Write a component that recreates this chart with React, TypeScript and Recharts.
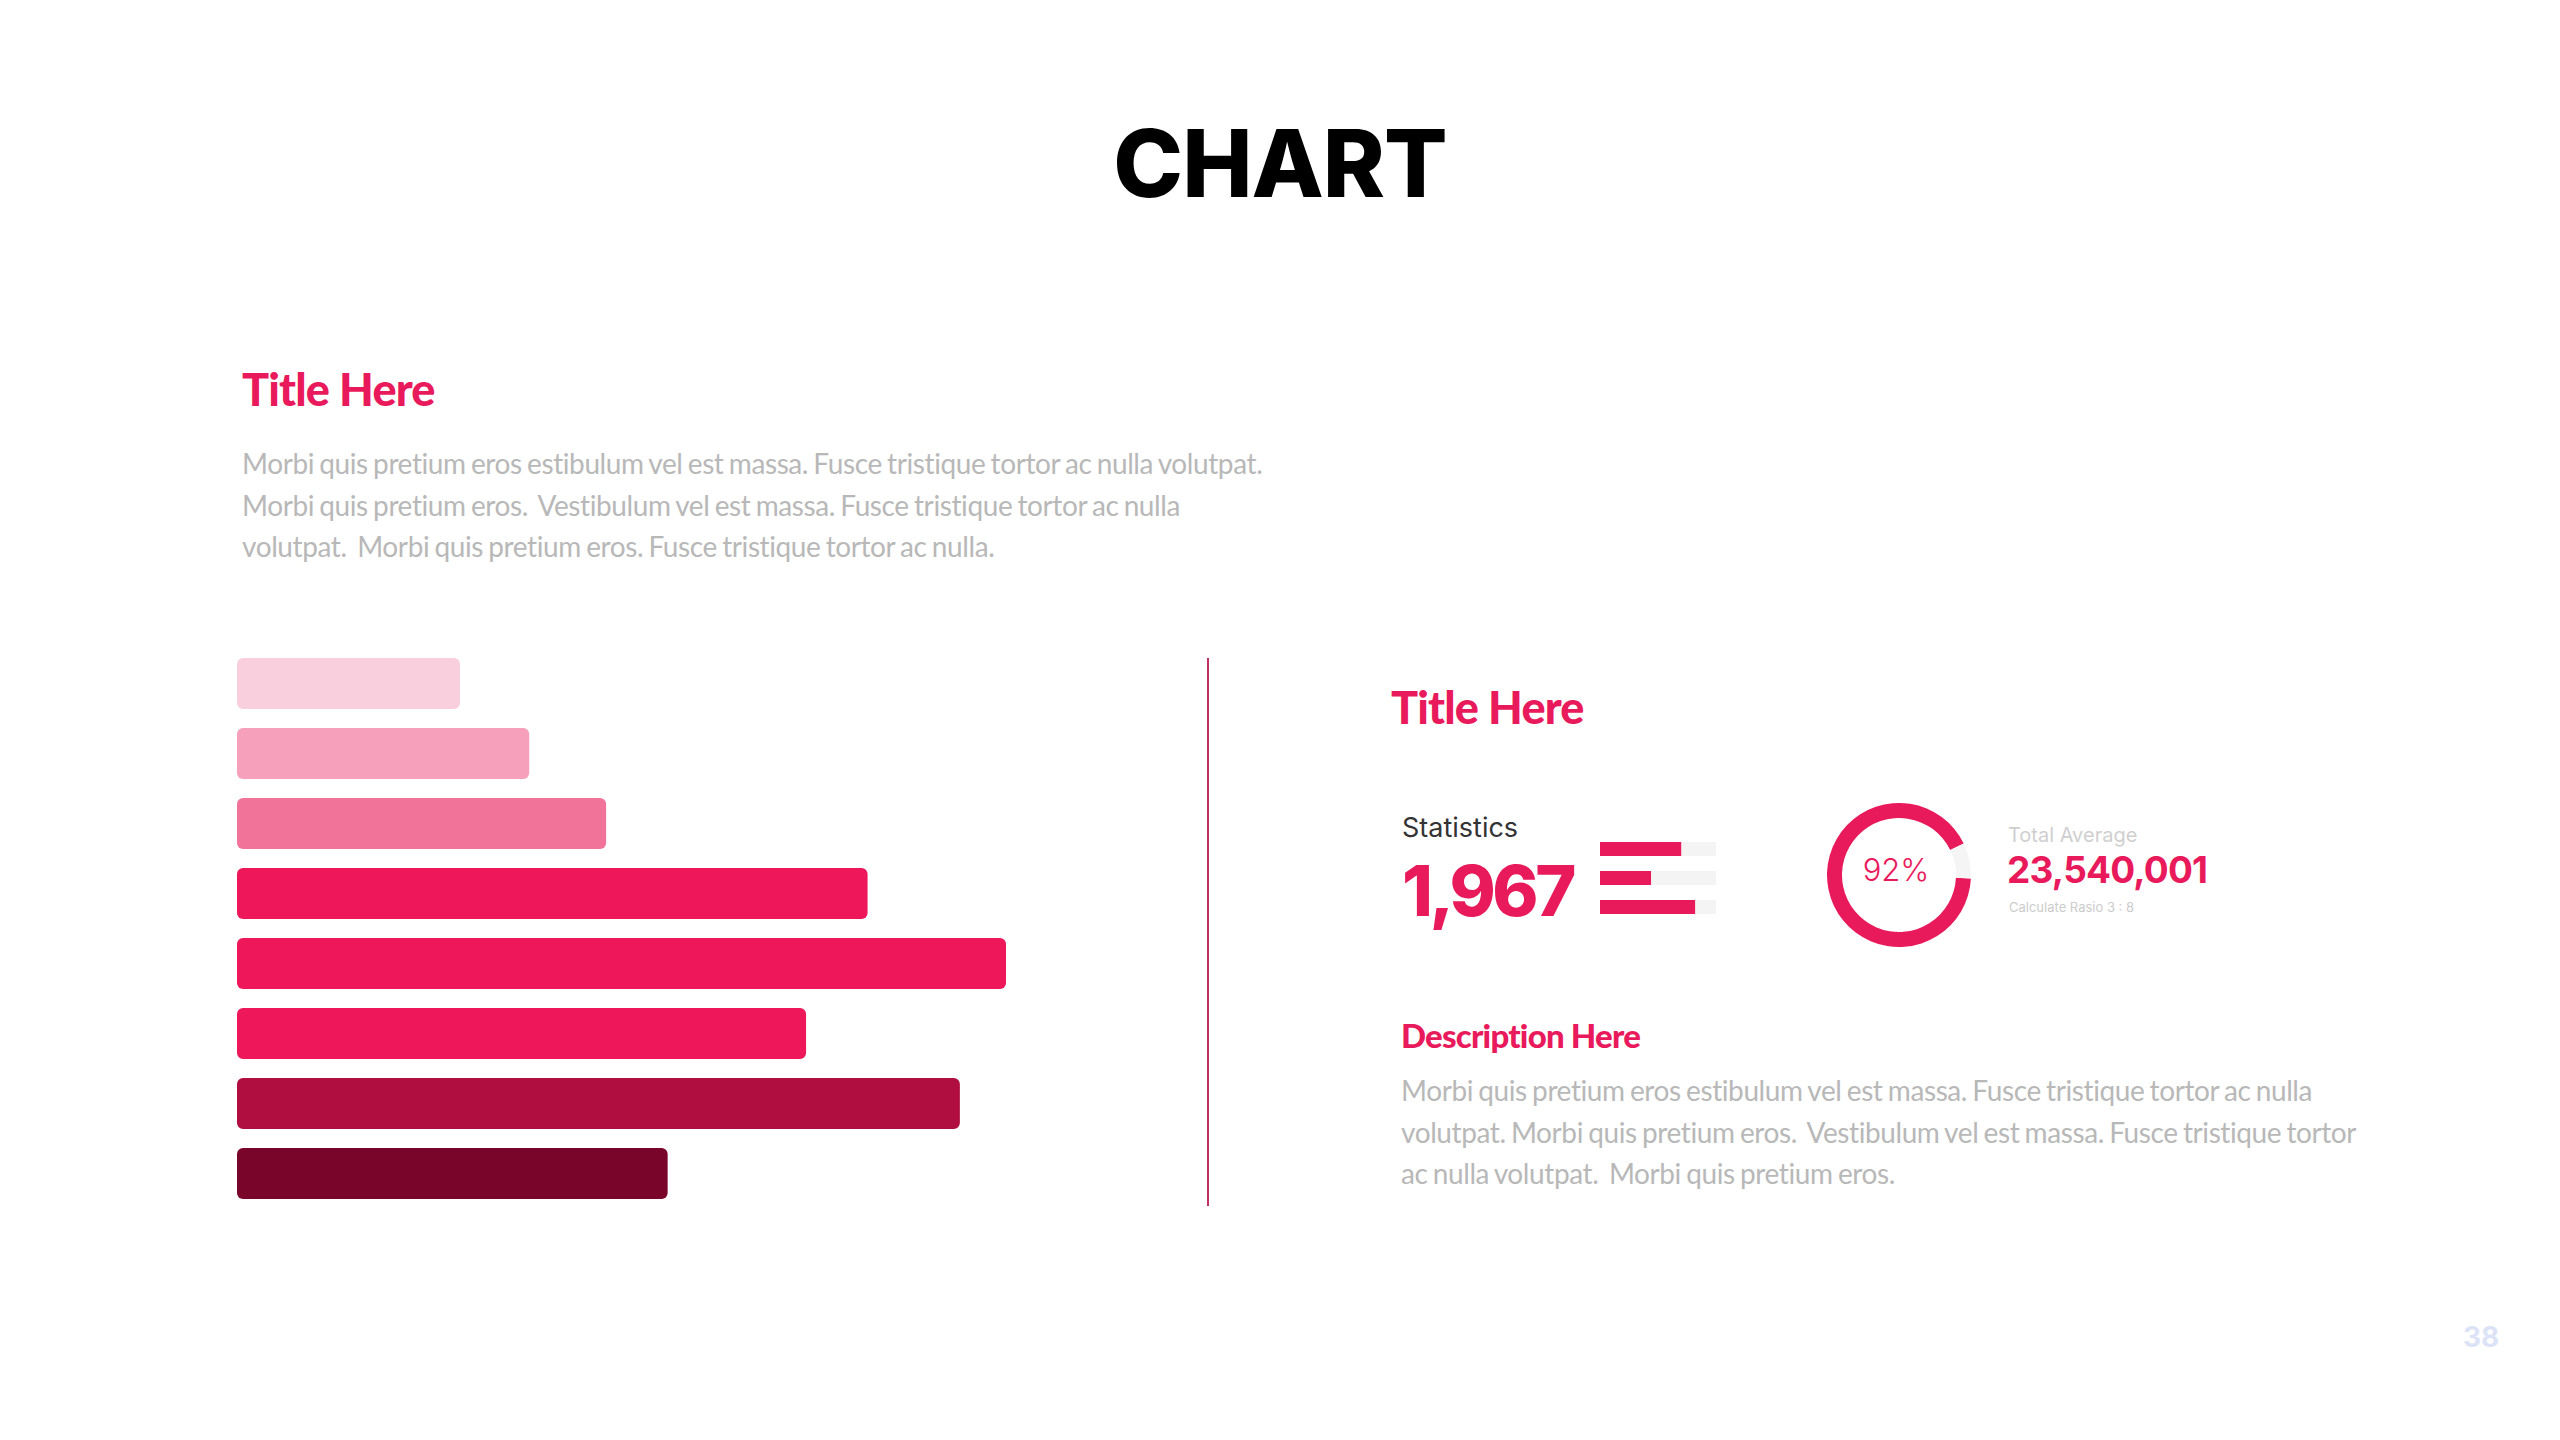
import { BarChart, Bar, XAxis, YAxis, Cell, PieChart, Pie } from 'recharts';

// main horizontal bars (top to bottom)
const categories = ['A', 'B', 'C', 'D', 'E', 'F', 'G', 'H'];
const barValues = [29, 38, 48, 82, 100, 74, 94, 56];
const barColors = ['#f9cfdd', '#f6a0bb', '#f17399', '#ee175a', '#ee175a', '#ee175a', '#b00e40', '#79052b'];

// small statistics bars
const statLabels = ['S1', 'S2', 'S3'];
const statValues = [70, 44, 82];

// donut
const donutLabels = ['Done', 'Rest'];
const donutValues = [92, 8];

const RED = '#e91a5c';
const GREY_TEXT = '#b8b8b8';

const mainData = categories.map((name, i) => ({ name, value: barValues[i] }));
const statData = statLabels.map((name, i) => ({ name, value: statValues[i] }));
const donutData = donutLabels.map((name, i) => ({ name, value: donutValues[i] }));

const abs = (left: number, top: number, extra: React.CSSProperties = {}): React.CSSProperties => ({
  position: 'absolute',
  left,
  top,
  ...extra,
});

const lato = "Lato, 'Noto Sans', sans-serif";
const poppins = "Inter, 'Noto Sans', sans-serif";

const paraStyle: React.CSSProperties = {
  fontFamily: lato,
  fontSize: 28,
  lineHeight: '41.5px',
  color: GREY_TEXT,
  letterSpacing: -0.4,
  wordSpacing: -1.5,
  whiteSpace: 'nowrap',
};

const titleStyle: React.CSSProperties = {
  fontFamily: lato,
  fontWeight: 900,
  fontSize: 45,
  lineHeight: '50px',
  color: RED,
  letterSpacing: -0.8,
  whiteSpace: 'nowrap',
};

export default function App() {
  return (
    <div style={{ position: 'absolute', left: 0, top: 0, width: 2560, height: 1440, background: '#fff', overflow: 'hidden' }}>
      <div
        style={abs(0, 106, {
          width: 2560,
          textAlign: 'center',
          fontFamily: poppins,
          fontWeight: 800,
          fontSize: 94,
          lineHeight: '114px',
          color: '#000',
          letterSpacing: -1,
        })}
      >
        CHART
      </div>

      <div style={abs(242, 364, titleStyle)}>Title Here</div>
      <div style={abs(242, 443, paraStyle)}>
        Morbi quis pretium eros estibulum vel est massa. Fusce tristique tortor ac nulla volutpat.
        <br />
        Morbi quis pretium eros.&nbsp; Vestibulum vel est massa. Fusce tristique tortor ac nulla
        <br />
        volutpat.&nbsp; Morbi quis pretium eros. Fusce tristique tortor ac nulla.
      </div>

      <div style={abs(237, 648)}>
        <BarChart width={769} height={560} data={mainData} layout="vertical" margin={{ top: 0, right: 0, bottom: 0, left: 0 }} barSize={51}>
          <XAxis type="number" domain={[0, 100]} hide />
          <YAxis type="category" dataKey="name" hide width={0} />
          <Bar dataKey="value" radius={6} isAnimationActive={false}>
            {mainData.map((d, i) => (
              <Cell key={d.name} fill={barColors[i]} />
            ))}
          </Bar>
        </BarChart>
      </div>

      <div style={abs(1207, 658, { width: 2, height: 548, background: '#c0315f' })} />

      <div style={abs(1391, 682, titleStyle)}>Title Here</div>

      <div style={abs(1402, 810, { fontFamily: poppins, fontSize: 27, lineHeight: '36px', color: '#333' })}>Statistics</div>
      <div
        style={abs(1402, 846, {
          fontFamily: poppins,
          fontWeight: 800,
          fontSize: 70,
          lineHeight: '90px',
          color: RED,
          letterSpacing: -3.5,
        })}
      >
        1,967
      </div>

      <div style={abs(1600, 833.5)}>
        <BarChart width={116} height={87} data={statData} layout="vertical" margin={{ top: 0, right: 0, bottom: 0, left: 0 }} barSize={14}>
          <XAxis type="number" domain={[0, 100]} hide />
          <YAxis type="category" dataKey="name" hide width={0} />
          <Bar dataKey="value" fill={RED} background={{ fill: '#f4f4f4' }} isAnimationActive={false} />
        </BarChart>
      </div>

      <div style={abs(1814, 790)}>
        <PieChart width={160} height={160}>
          <Pie
            data={donutData}
            dataKey="value"
            cx={80}
            cy={80}
            innerRadius={57}
            outerRadius={72}
            startAngle={26}
            endAngle={386}
            stroke="none"
            isAnimationActive={false}
          >
            <Cell fill={RED} />
            <Cell fill="#f5f5f5" />
          </Pie>
        </PieChart>
      </div>
      <div
        style={abs(1816, 848, {
          width: 160,
          textAlign: 'center',
          fontFamily: poppins,
          fontWeight: 300,
          fontSize: 31,
          lineHeight: '44px',
          color: RED,
        })}
      >
        92%
      </div>

      <div style={abs(2008, 822, { fontFamily: poppins, fontSize: 20, lineHeight: '26px', color: '#cfcfcf' })}>Total Average</div>
      <div
        style={abs(2007, 846, {
          fontFamily: poppins,
          fontWeight: 700,
          fontSize: 37,
          lineHeight: '48px',
          color: RED,
          letterSpacing: -0.8,
        })}
      >
        23,540,001
      </div>
      <div style={abs(2009, 898, { fontFamily: poppins, fontSize: 13, lineHeight: '18px', color: '#cccccc' })}>
        Calculate Rasio 3 : 8
      </div>

      <div
        style={abs(1401, 1015, {
          fontFamily: lato,
          fontWeight: 900,
          fontSize: 33,
          lineHeight: '40px',
          color: RED,
          letterSpacing: -0.8,
          whiteSpace: 'nowrap',
        })}
      >
        Description Here
      </div>
      <div style={abs(1401, 1070, paraStyle)}>
        Morbi quis pretium eros estibulum vel est massa. Fusce tristique tortor ac nulla
        <br />
        volutpat. Morbi quis pretium eros.&nbsp; Vestibulum vel est massa. Fusce tristique tortor
        <br />
        ac nulla volutpat.&nbsp; Morbi quis pretium eros.
      </div>

      <div style={abs(2463, 1318, { fontFamily: poppins, fontWeight: 700, fontSize: 28, lineHeight: '38px', color: '#dde3f7' })}>
        38
      </div>
    </div>
  );
}
